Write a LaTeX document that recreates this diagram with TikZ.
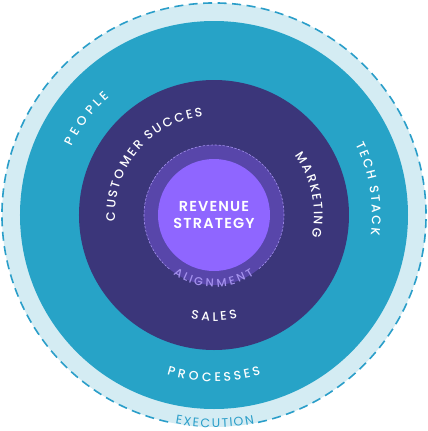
\documentclass[tikz,border=0pt]{standalone}
\usepackage{fontspec}
\setmainfont{Poppins}
\newfontfamily\labelfamily{Poppins Medium}
\newfontfamily\corefamily{Poppins SemiBold}[LetterSpace=8]
\usetikzlibrary{decorations.text}
\definecolor{exLight}{RGB}{212,236,243}
\definecolor{exTeal}{RGB}{39,163,199}
\definecolor{exDash}{RGB}{42,158,201}
\definecolor{ccDark}{RGB}{59,54,122}
\definecolor{alRing}{RGB}{88,70,170}
\definecolor{alText}{RGB}{165,146,238}
\definecolor{rsCore}{RGB}{143,102,255}
\newcommand\ringfont{\labelfamily\fontsize{12.5}{12.5}\selectfont}
\newcommand\smallringfont{\labelfamily\fontsize{11.5}{11.5}\selectfont}
\newcommand\thinringfont{\fontsize{12.5}{12.5}\selectfont}
\tikzset{
    disc/.style={circle, draw=none, fill=#1, inner sep=0pt},
    rimline/.style={exDash, line width=1.6bp, dash pattern=on 9bp off 5.5bp},
    alignline/.style={alText, line width=0.6bp, dash pattern=on 2.5bp off 1.5bp},
    core/.style={disc=rsCore, minimum size=112bp, text=white, align=center,
                 font=\corefamily\fontsize{14.5}{18}\selectfont},
    arclabel/.style n args={3}{decorate, decoration={text effects along path, text={#1},
                 text effects/.cd, text along path, fit text to path,
                 characters={text=#2, font=#3}}}
}
\begin{document}
\begin{tikzpicture}[x=1bp, y=1bp]
  \useasboundingbox (-214,-216) rectangle (214,215);

  % Rings, from outside in
  \node[disc=exLight, minimum size=424bp] (execution) at (0,0) {};
  \node[disc=exTeal, minimum size=388bp] (people) at (0,0) {};
  \node[disc=ccDark, minimum size=270bp] (teams) at (0,0) {};
  \node[disc=alRing, minimum size=140bp] (alignment) at (0,0) {};

  % Dashed borders, open where their labels sit
  \draw[rimline] (-78:212) arc[start angle=-78, end angle=258, radius=212];
  \draw[alignline] (-50:70) arc[start angle=-50, end angle=231, radius=70];

  % Core
  \node[core] (strategy) at (0,0) {REVENUE\\STRATEGY};

  % Labels along the top (clockwise)
  \path[arclabel={PEOPLE}{white}{\ringfont}] (154.5:158) arc[start angle=154.5, end angle=131.5, radius=158];
  \path[arclabel={TECH STACK}{white}{\ringfont}] (26.5:158) arc[start angle=26.5, end angle=-7.5, radius=158];
  \path[arclabel={CUSTOMER SUCCES}{white}{\ringfont}] (183.5:99) arc[start angle=183.5, end angle=96.5, radius=99];
  \path[arclabel={MARKETING}{white}{\ringfont}] (36.5:100) arc[start angle=36.5, end angle=-12.5, radius=100];

  % Labels along the bottom (counter-clockwise)
  \path[arclabel={SALES}{white}{\ringfont}] (257.2:106) arc[start angle=257.2, end angle=282.8, radius=106];
  \path[arclabel={PROCESSES}{white}{\ringfont}] (253.6:166.5) arc[start angle=253.6, end angle=286.4, radius=166.5];
  \path[arclabel={EXECUTION}{exDash}{\thinringfont}] (259.5:212.5) arc[start angle=259.5, end angle=281, radius=212.5];
  \path[arclabel={ALIGNMENT}{alText}{\smallringfont}] (235.5:72) arc[start angle=235.5, end angle=304, radius=72];
\end{tikzpicture}
\end{document}
